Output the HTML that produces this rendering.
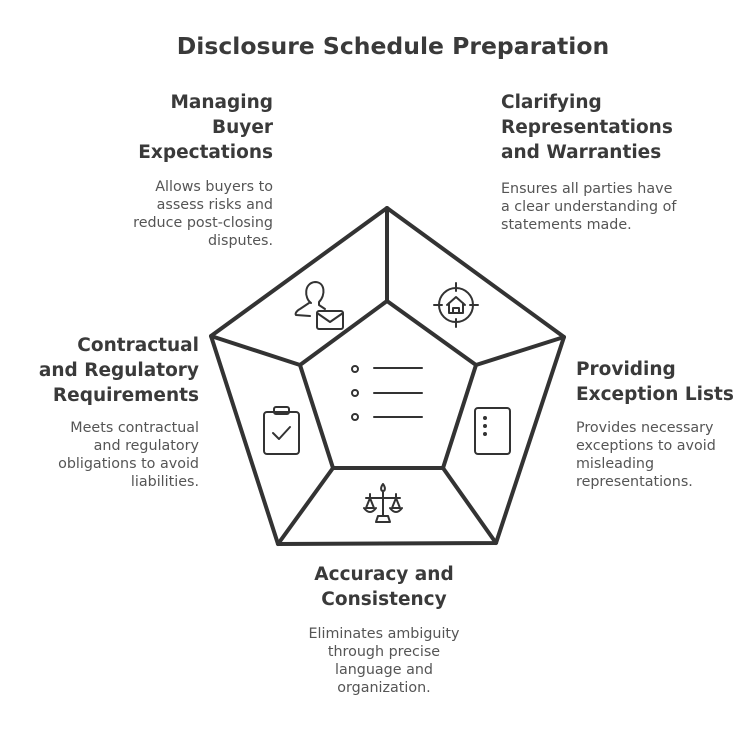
<!DOCTYPE html>
<html><head><meta charset="utf-8"><style>
body{margin:0;width:750px;height:750px;background:#fff;position:relative;font-family:"DejaVu Sans",sans-serif;color:#333;overflow:hidden}
.t{position:absolute;font-weight:bold;font-size:18.5px;line-height:25px;color:#3a3a3a;white-space:nowrap}
.d{position:absolute;font-size:14.3px;line-height:18px;color:#555;white-space:nowrap}
.r{text-align:right}.c{text-align:center}
</style></head><body>
<div class="t c" style="left:0;width:786px;top:31px;font-size:23.5px;line-height:30px">Disclosure Schedule Preparation</div>
<div class="t r" style="left:60px;width:213px;top:90px">Managing<br>Buyer<br>Expectations</div>
<div class="d r" style="left:60px;width:213px;top:178px">Allows buyers to<br>assess risks and<br>reduce post-closing<br>disputes.</div>
<div class="t" style="left:501px;top:90px">Clarifying<br>Representations<br>and Warranties</div>
<div class="d" style="left:501px;top:180px">Ensures all parties have<br>a clear understanding of<br>statements made.</div>
<div class="t r" style="left:0px;width:199px;top:333px">Contractual<br>and Regulatory<br>Requirements</div>
<div class="d r" style="left:0px;width:199px;top:419px">Meets contractual<br>and regulatory<br>obligations to avoid<br>liabilities.</div>
<div class="t" style="left:576px;top:357px">Providing<br>Exception Lists</div>
<div class="d" style="left:576px;top:419px">Provides necessary<br>exceptions to avoid<br>misleading<br>representations.</div>
<div class="t c" style="left:284px;width:200px;top:562px">Accuracy and<br>Consistency</div>
<div class="d c" style="left:284px;width:200px;top:625px">Eliminates ambiguity<br>through precise<br>language and<br>organization.</div>
<svg width="750" height="750" style="position:absolute;left:0;top:0" fill="none" stroke="#333" stroke-linecap="round" stroke-linejoin="round">
<g stroke-width="4">
<polygon points="387,208 564,337 496,543 278,544 211,336"/>
<polygon points="387,301 476,365 443,468 333,468 300,365"/>
<line x1="387" y1="208" x2="387" y2="301"/><line x1="564" y1="337" x2="476" y2="365"/>
<line x1="496" y1="543" x2="443" y2="468"/><line x1="278" y1="544" x2="333" y2="468"/>
<line x1="211" y1="336" x2="300" y2="365"/>
</g>
<g stroke-width="2">
<circle cx="355" cy="369" r="3"/><circle cx="355" cy="393" r="3"/><circle cx="355" cy="417" r="3"/>
<line x1="374" y1="368" x2="422" y2="368"/><line x1="374" y1="393" x2="422" y2="393"/><line x1="374" y1="417" x2="422" y2="417"/>
<path d="M311,303 c-7,-5 -7,-20 4,-21 c10,0 11,13 4,20 l0,3 l6,4 M309,303 l-9,6 c-4,2 -5,5 -4,6 l14,1"/>
<rect x="317" y="311" width="26" height="18" rx="2"/><path d="M317,313 l13,9 l13,-9"/>
<circle cx="456" cy="305" r="17"/><path d="M456,283 v8 M456,319 v8 M434,305 h8 M470,305 h8 M447,305 l9,-8 l9,8 M449,303 v10 h14 v-10 M453,313 v-5 h6 v5"/>
<rect x="264" y="412" width="35" height="42" rx="3"/><rect x="274" y="407" width="15" height="7" rx="2"/><path d="M273,433 l6,6 l11,-12"/>
<rect x="475" y="408" width="35" height="46" rx="3"/><circle cx="485" cy="418" r="1"/><circle cx="485" cy="426" r="1"/><circle cx="485" cy="434" r="1"/>
<path d="M383,484 c-3,4 -2,7 0,7 c2,0 3,-3 0,-7 M383,491 v25 M366,498 h34 M370,498 v-4 M396,498 v-4 M366,508 l4,-10 l4,10 z M392,508 l4,-10 l4,10 z M364,508 q6,8 12,0 M390,508 q6,8 12,0 M376,522 h14 l-2,-6 h-10 z"/>
</g>
</svg>
</body></html>
